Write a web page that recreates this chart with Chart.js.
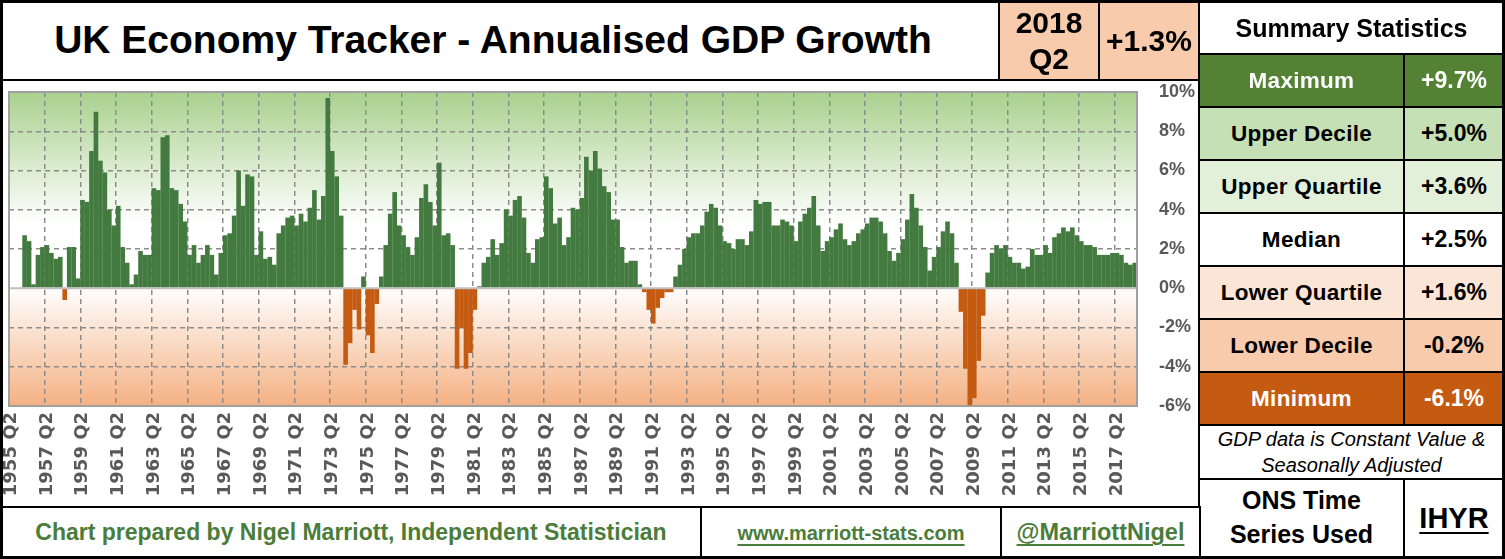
<!DOCTYPE html>
<html>
<head>
<meta charset="utf-8">
<script src="https://cdn.jsdelivr.net/npm/chart.js@4.4.1/dist/chart.umd.min.js"></script>
<style>
  html,body{margin:0;padding:0;}
  body{width:1505px;height:559px;position:relative;overflow:hidden;background:#fff;font-family:"Liberation Sans",Arial,sans-serif;}
  .c{position:absolute;box-sizing:border-box;border:2px solid #000;display:flex;align-items:center;justify-content:center;text-align:center;font-weight:bold;color:#000;line-height:1.2;}
  #chartWrap{position:absolute;left:0;top:80px;width:1200px;height:426px;}
  .g{color:#4A7C3A;}
  .u{text-decoration:underline;text-decoration-thickness:2px;text-underline-offset:4px;}
</style>
</head>
<body>
<div id="chartWrap"><canvas id="cv" width="1200" height="426"></canvas></div>
<div id="cells"></div>
<script>
// ---------- DATA ----------
const firstYear = 1955, firstQuarter = 2, lastYear = 2018, lastQuarter = 2;
const categories = [];
for (let y = firstYear; y <= lastYear; y++) {
  for (let q = 1; q <= 4; q++) {
    if (y === firstYear && q < firstQuarter) continue;
    if (y === lastYear && q > lastQuarter) continue;
    categories.push(y + ' Q' + q);
  }
}
// Annual % growth (quarter vs same quarter a year earlier)
const growth = [
  null, null, null, 2.7, 2.4, 0.2, 1.7, 2.1, 2.2, 1.8, 1.5, 1.6, -0.6, 2.1, 2.1, 0.5,
  4.5, 4.4, 7.0, 9.0, 6.5, 5.9, 4.0, 3.2, 4.2, 2.1, 1.3, 0.2, 0.7, 1.9, 1.7, 1.7,
  5.1, 5.0, 7.7, 7.8, 5.1, 5.0, 4.3, 3.4, 1.7, 2.2, 1.3, 1.7, 2.2, 1.7, 0.7, 1.8,
  2.7, 2.8, 3.7, 6.0, 4.2, 5.8, 5.7, 1.7, 2.9, 1.5, 1.6, 1.2, 2.8, 3.2, 3.6, 3.7,
  3.2, 3.8, 3.4, 4.1, 5.0, 3.5, 4.7, 9.7, 7.0, 5.7, 3.7, -3.9, -2.8, -1.1, -2.1, 0.6,
  -2.4, -3.3, -0.8, 0.6, 2.2, 3.8, 4.9, 3.2, 2.7, 2.1, 1.7, 2.6, 4.6, 5.3, 4.4, 3.2,
  6.4, 2.7, 2.8, 2.2, -4.1, -2.0, -4.1, -3.3, -1.1, 0.1, 1.3, 1.6, 2.5, 1.7, 2.3, 4.0,
  3.7, 4.5, 4.7, 3.6, 1.8, 1.3, 2.5, 2.6, 5.7, 5.1, 3.3, 3.6, 2.2, 2.6, 4.1, 4.0,
  4.6, 6.7, 6.0, 7.0, 6.1, 5.2, 4.9, 3.5, 3.5, 2.1, 1.3, 1.4, 1.4, 0.2, -0.2, -1.1,
  -1.8, -1.0, -0.5, -0.2, -0.2, 0.6, 1.2, 2.0, 2.6, 2.8, 2.8, 3.2, 3.9, 4.3, 4.1, 3.2,
  2.4, 2.3, 2.0, 2.5, 2.5, 2.2, 2.9, 4.5, 4.3, 4.4, 4.4, 3.2, 3.2, 3.5, 3.4, 3.2,
  2.4, 3.4, 3.8, 4.1, 4.7, 3.2, 1.9, 2.4, 2.6, 3.0, 3.3, 2.5, 2.2, 2.4, 2.8, 3.0,
  3.3, 3.6, 3.6, 3.4, 2.8, 1.9, 1.4, 1.8, 2.5, 3.5, 4.8, 4.1, 3.2, 2.1, 0.9, 1.6,
  2.1, 2.9, 3.4, 2.8, 1.3, -1.2, -4.1, -6.1, -5.6, -3.7, -1.4, 0.8, 1.8, 2.2, 2.0, 2.2,
  1.6, 1.3, 1.3, 1.0, 1.1, 2.0, 1.7, 1.7, 2.2, 1.8, 2.6, 2.8, 3.1, 2.9, 3.1, 2.7,
  2.4, 2.2, 2.2, 2.1, 1.7, 1.7, 1.7, 1.8, 1.8, 1.7, 1.3, 1.2, 1.3
];
const tickLabels = ['1955 Q2','1957 Q2','1959 Q2','1961 Q2','1963 Q2','1965 Q2','1967 Q2','1969 Q2',
  '1971 Q2','1973 Q2','1975 Q2','1977 Q2','1979 Q2','1981 Q2','1983 Q2','1985 Q2','1987 Q2','1989 Q2',
  '1991 Q2','1993 Q2','1995 Q2','1997 Q2','1999 Q2','2001 Q2','2003 Q2','2005 Q2','2007 Q2','2009 Q2',
  '2011 Q2','2013 Q2','2015 Q2','2017 Q2'];
const yMin = -6, yMax = 10, yStep = 2;

const latestPeriod = ['2018', 'Q2'];
const latestValue = '+1.3%';
const statNames = ['Maximum','Upper Decile','Upper Quartile','Median','Lower Quartile','Lower Decile','Minimum'];
const statValues = ['+9.7%','+5.0%','+3.6%','+2.5%','+1.6%','-0.2%','-6.1%'];
const statColors = ['#548235','#C5E0B4','#E2F0D9','#FFFFFF','#FBE5D6','#F8CBAD','#C55A11'];
const statText = ['#FFFFFF','#000','#000','#000','#000','#000','#FFFFFF'];

// ---------- LAYOUT CELLS ----------
const cells = document.getElementById('cells');
function cell(x, y, w, h, html, style) {
  const d = document.createElement('div');
  d.className = 'c';
  d.style.left = x + 'px'; d.style.top = y + 'px';
  d.style.width = w + 'px'; d.style.height = h + 'px';
  if (style) Object.assign(d.style, style);
  d.innerHTML = html;
  cells.appendChild(d);
  return d;
}
// chart frame
cell(0, 79, 1201, 429, '', {background:'transparent'});
// title
cell(0, 0, 1000, 81, 'UK Economy Tracker - Annualised GDP Growth', {fontSize:'39px', background:'#fff', paddingRight:'14px'});
cell(998, 0, 102, 81, latestPeriod.join('<br>'), {fontSize:'30px', background:'#F8CBAD', lineHeight:'1.17'});
cell(1098, 0, 102, 81, latestValue, {fontSize:'30px', background:'#F8CBAD'});
// summary table
cell(1198, 0, 307, 55, 'Summary Statistics', {fontSize:'25px', background:'#fff'});
statNames.forEach((n, k) => {
  const top = 53 + 53 * k;
  cell(1198, top, 207, 55, n, {fontSize:'22.5px', background:statColors[k], color:statText[k], letterSpacing:'0.3px'});
  cell(1403, top, 102, 55, statValues[k], {fontSize:'23px', background:statColors[k], color:statText[k]});
});
cell(1198, 424, 307, 56, 'GDP data is Constant Value &amp;<br>Seasonally Adjusted', {fontSize:'20px', fontWeight:'normal', fontStyle:'italic', background:'#fff', lineHeight:'1.3'});
cell(1198, 478, 207, 81, 'ONS Time<br>Series Used', {fontSize:'25px', background:'#fff', lineHeight:'1.33', paddingBottom:'2px'});
cell(1403, 478, 102, 81, '<span class="u">IHYR</span>', {fontSize:'29px', background:'#fff'});
// footer
cell(0, 506, 702, 53, '<span class="g" style="font-size:23px">Chart prepared by Nigel Marriott, Independent Statistician</span>', {background:'#fff'});
cell(700, 506, 302, 53, '<span class="g u" style="font-size:20px">www.marriott-stats.com</span>', {background:'#fff'});
cell(1000, 506, 201, 53, '<span class="g u" style="font-size:23.5px">@MarriottNigel</span>', {background:'#fff'});
// outer frame
cell(0, 0, 1505, 559, '', {background:'transparent', border:'3px solid #000'});

// ---------- CHART ----------
const GREEN = '#437A3F', ORANGE = '#C55A11', GRID = '#8C8C8C';
const plotDeco = {
  id: 'plotDeco',
  beforeDraw(chart) {
    const {ctx, chartArea: a} = chart;
    const g = ctx.createLinearGradient(0, a.top, 0, a.bottom);
    g.addColorStop(0, '#A9D18E');
    g.addColorStop(0.42, '#FFFFFF');
    g.addColorStop(0.62, '#FFFFFF');
    g.addColorStop(1, '#F4B183');
    ctx.save();
    ctx.fillStyle = g;
    ctx.fillRect(a.left, a.top, a.right - a.left, a.bottom - a.top);
    ctx.restore();
  },
  afterDatasetsDraw(chart) {
    const {ctx, chartArea: a, scales} = chart;
    const y0 = scales.y.getPixelForValue(0);
    ctx.save();
    ctx.strokeStyle = '#BFBFBF';
    ctx.lineWidth = 2;
    ctx.beginPath(); ctx.moveTo(a.left, y0); ctx.lineTo(a.right, y0); ctx.stroke();
    ctx.strokeStyle = '#A0A0A0';
    ctx.lineWidth = 2;
    ctx.strokeRect(a.left, a.top, a.right - a.left, a.bottom - a.top);
    ctx.restore();
  }
};

new Chart(document.getElementById('cv'), {
  type: 'bar',
  data: {
    labels: categories,
    datasets: [{
      data: growth,
      backgroundColor: c => (c.raw < 0 ? ORANGE : GREEN),
      borderWidth: 0,
      barPercentage: 1.04,
      categoryPercentage: 1.0
    }]
  },
  options: {
    responsive: false,
    animation: false,
    devicePixelRatio: 1,
    layout: {padding: {left: 9, top: 12, right: 0, bottom: 0}},
    plugins: {legend: {display: false}, tooltip: {enabled: false}},
    scales: {
      x: {
        offset: true,
        grid: {
          offset: true,
          drawTicks: false,
          lineWidth: 1.5,
          color: c => (c.index % 8 === 0 && c.index > 0) ? GRID : 'rgba(0,0,0,0)'
        },
        border: {display: false, dash: [5, 4]},
        ticks: {
          autoSkip: false,
          minRotation: 90,
          maxRotation: 90,
          padding: 6,
          color: '#595959',
          font: {family: '"DejaVu Sans"', weight: 'bold', size: 18},
          callback: (v, i) => tickLabels.includes(categories[i]) ? categories[i] : ''
        },
        afterFit: s => { s.height = 100; s.paddingLeft = 0; s.paddingRight = 0; }
      },
      y: {
        position: 'right',
        min: yMin, max: yMax,
        grid: {
          drawTicks: false,
          lineWidth: 1.5,
          color: c => (c.tick && (c.tick.value === 0 || c.tick.value === yMin || c.tick.value === yMax)) ? 'rgba(0,0,0,0)' : GRID
        },
        border: {display: false, dash: [5, 4]},
        ticks: {
          stepSize: yStep,
          padding: 22,
          color: '#595959',
          font: {family: '"Liberation Sans"', weight: 'bold', size: 18},
          callback: v => v + '%'
        },
        afterFit: s => { s.width = 63; s.paddingTop = 0; s.paddingBottom = 0; }
      }
    }
  },
  plugins: [plotDeco]
});
</script>
</body>
</html>
